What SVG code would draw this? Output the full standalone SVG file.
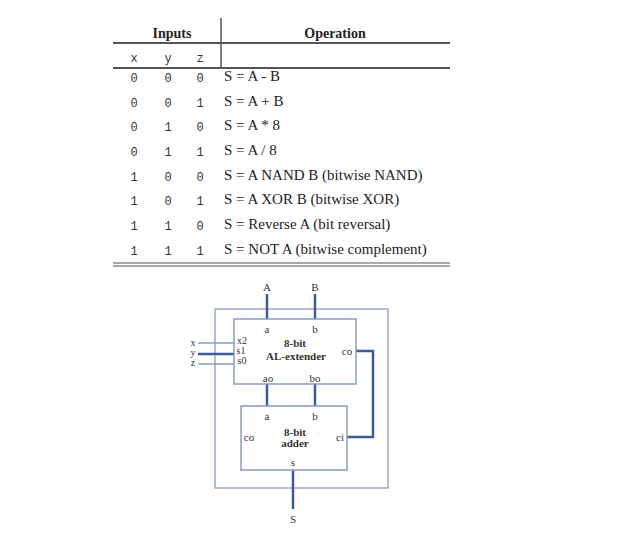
<svg xmlns="http://www.w3.org/2000/svg" width="617" height="538" viewBox="0 0 617 538">
<style>
.s{font-family:"Liberation Serif",serif;fill:#222}
.m{font-family:"Liberation Mono",monospace;font-size:12px;fill:#333;text-anchor:middle}
.h{font-family:"Liberation Serif",serif;font-weight:bold;font-size:14px;fill:#222;text-anchor:middle}
.op{font-size:15px}
.w{stroke:#3d5a99;stroke-width:2.5;fill:none}
.t{stroke:#8a9cc4;stroke-width:1.3;fill:none}
.b{fill:#fff;stroke:#8a9cc4;stroke-width:1.5}
.l{font-family:"Liberation Serif",serif;font-size:11px;fill:#333;text-anchor:middle}
.sm{font-size:10px}
.lb{font-family:"Liberation Serif",serif;font-size:11px;font-weight:bold;fill:#333;text-anchor:middle}
</style>
<rect width="617" height="538" fill="#fff"/>
<g id="table">
<line x1="113" y1="43" x2="450" y2="43" stroke="#555" stroke-width="2"/>
<line x1="113" y1="68" x2="450" y2="68" stroke="#555" stroke-width="2"/>
<line x1="221" y1="18" x2="221" y2="68" stroke="#555" stroke-width="1.5"/>
<line x1="113" y1="263" x2="450" y2="263" stroke="#555" stroke-width="1.2"/>
<line x1="113" y1="266" x2="450" y2="266" stroke="#555" stroke-width="1.2"/>
<text class="h" x="172" y="38">Inputs</text>
<text class="h" x="335" y="38">Operation</text>
<text class="m" x="134" y="62">x</text><text class="m" x="168" y="62">y</text><text class="m" x="200" y="62">z</text>
<g class="m">
<text x="134" y="82">0</text><text x="168" y="82">0</text><text x="200" y="82">0</text>
<text x="134" y="107">0</text><text x="168" y="107">0</text><text x="200" y="107">1</text>
<text x="134" y="131">0</text><text x="168" y="131">1</text><text x="200" y="131">0</text>
<text x="134" y="156">0</text><text x="168" y="156">1</text><text x="200" y="156">1</text>
<text x="134" y="181">1</text><text x="168" y="181">0</text><text x="200" y="181">0</text>
<text x="134" y="205">1</text><text x="168" y="205">0</text><text x="200" y="205">1</text>
<text x="134" y="230">1</text><text x="168" y="230">1</text><text x="200" y="230">0</text>
<text x="134" y="255">1</text><text x="168" y="255">1</text><text x="200" y="255">1</text>
</g>
<g class="s op">
<text x="224" y="81">S = A - B</text>
<text x="224" y="106">S = A + B</text>
<text x="224" y="130">S = A * 8</text>
<text x="224" y="155">S = A / 8</text>
<text x="224" y="180">S = A NAND B (bitwise NAND)</text>
<text x="224" y="204">S = A XOR B (bitwise XOR)</text>
<text x="224" y="229">S = Reverse A (bit reversal)</text>
<text x="224" y="254">S = NOT A (bitwise complement)</text>
</g>
</g>
<g id="connectors">
<rect class="t" x="215" y="309" width="173" height="179" stroke-width="2"/>
<line class="w" x1="267" y1="294" x2="267" y2="319"/>
<line class="w" x1="315" y1="294" x2="315" y2="319"/>
<line class="w" x1="267" y1="384" x2="267" y2="406"/>
<line class="w" x1="315" y1="384" x2="315" y2="406"/>
<polyline class="w" points="356,351 373,351 373,437 347,437"/>
<line class="w" x1="293" y1="470" x2="293" y2="509"/>
<line class="t" x1="198" y1="343" x2="234" y2="343"/>
<line class="w" x1="198" y1="354" x2="234" y2="354" stroke-width="2"/>
<line class="t" x1="198" y1="364" x2="234" y2="364"/>
</g>
<g id="ext">
<rect class="b" x="234" y="319" width="122" height="65"/>
<text class="l" x="267" y="333">a</text><text class="l" x="315" y="333">b</text>
<text class="l sm" x="242" y="344">x2</text><text class="l sm" x="241" y="354">s1</text><text class="l sm" x="242" y="364">s0</text>
<text class="lb" x="295" y="347">8-bit</text><text class="lb" x="296" y="360">AL-extender</text>
<text class="l" x="347" y="355">co</text>
<text class="l" x="268" y="382">ao</text><text class="l" x="315" y="382">bo</text>
</g>
<g id="adder">
<rect class="b" x="241" y="406" width="106" height="64"/>
<text class="l" x="267" y="420">a</text><text class="l" x="315" y="420">b</text>
<text class="lb" x="295" y="436">8-bit</text><text class="lb" x="295" y="447">adder</text>
<text class="l" x="249" y="441">co</text><text class="l" x="340" y="441">ci</text>
<text class="l" x="293" y="466">s</text>
</g>
<g id="labels">
<text class="l" x="267" y="291" font-size="12">A</text>
<text class="l" x="315" y="291" font-size="12">B</text>
<text class="l" x="293" y="523" font-size="12">S</text>
<text class="l sm" x="193" y="346">x</text><text class="l sm" x="193" y="356">y</text><text class="l sm" x="193" y="366">z</text>
</g>
</svg>
